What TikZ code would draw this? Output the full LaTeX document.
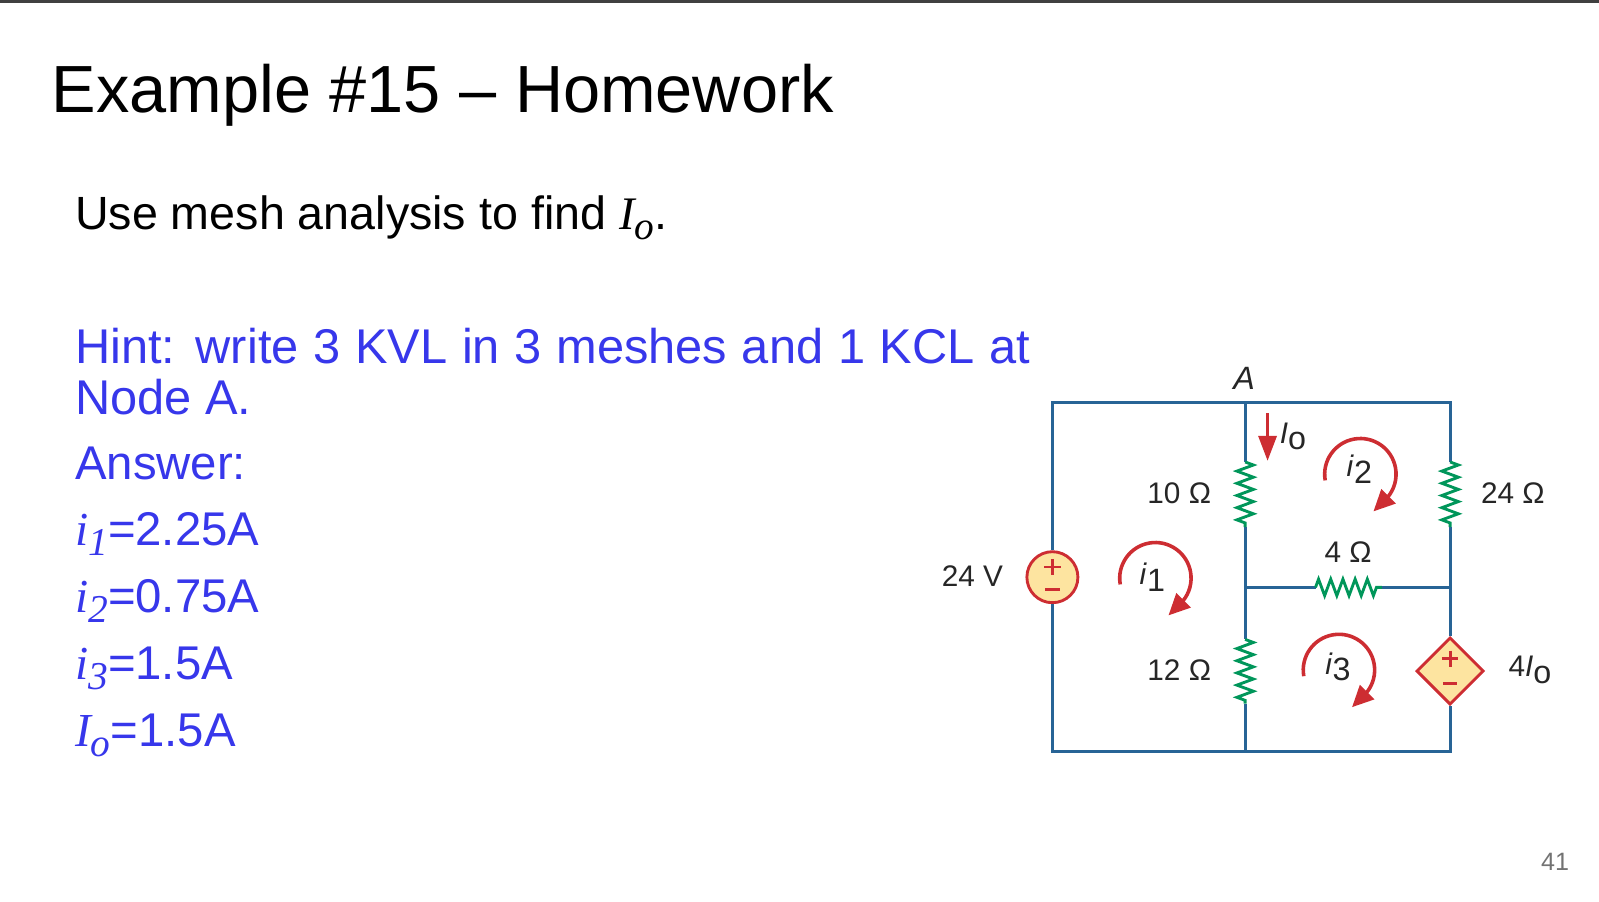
\documentclass[tikz,border=0pt]{standalone}
\usepackage{fontspec}
\setmainfont{Liberation Sans}
\newfontfamily\mathserif{Liberation Serif}
\usetikzlibrary{decorations.pathmorphing,arrows.meta,shapes.geometric}
\definecolor{hintblue}{RGB}{55,55,235}
\definecolor{wireblue}{RGB}{40,100,150}
\definecolor{loopred}{RGB}{205,45,50}
\definecolor{resgreen}{RGB}{0,150,90}
\definecolor{srcfill}{RGB}{253,228,160}
\newcommand{\sv}[2]{{\mathserif\itshape #1}\raisebox{-0.4ex}{\fontsize{11}{11}\selectfont\mathserif\itshape #2}}
\tikzset{
  wire/.style={draw=wireblue,line width=0.8pt},
  resistor/.style={draw=resgreen,line width=0.8pt,decorate,
    decoration={zigzag,segment length=3.4pt,amplitude=2.3pt}},
  meshloop/.style={draw=loopred,line width=1pt,-{Triangle[length=6pt,width=5.5pt]}},
  lbl/.style={font=\fontsize{8.3}{10}\selectfont,text=black!85},
  answer/.style={anchor=base west,text=hintblue,font=\fontsize{13.2}{16}\selectfont}
}
\begin{document}
\begin{tikzpicture}[x=0.01cm,y=-0.01cm]
\useasboundingbox (0,0) rectangle (1568,884);
\draw[black!75,line width=1pt] (0,1) -- (1568,1);
% slide texts
\node[anchor=base west,font=\fontsize{18.6}{22}\selectfont,inner sep=0pt] (title) at (50,110) {Example \#15 -- Homework};
\node[anchor=base west,font=\fontsize{13}{16}\selectfont,inner sep=0pt] (task) at (73,225) {Use mesh analysis to find \sv{I}{o}.};
\node[anchor=base west,text=hintblue,font=\fontsize{13.6}{14.4}\selectfont,align=justify,text width=9.36cm,inner sep=0pt] (hint) at (73,356)
  {Hint: write 3 KVL in 3 meshes and 1 KCL at Node A.};
\node[answer,inner sep=0pt] (ans) at (73,470) {Answer:};
\node[answer,inner sep=0pt] (a1) at (73,535) {\sv{i}{1}=2.25A};
\node[answer,inner sep=0pt] (a2) at (73,601) {\sv{i}{2}=0.75A};
\node[answer,inner sep=0pt] (a3) at (73,666) {\sv{i}{3}=1.5A};
\node[answer,inner sep=0pt] (a4) at (73,732) {\sv{I}{o}=1.5A};
\node[text=black!55,font=\fontsize{7}{9}\selectfont] (page) at (1525,845) {41};
% circuit corners and junctions
\coordinate (tl) at (1032,395);
\coordinate (ta) at (1221,395);
\coordinate (tr) at (1422,395);
\coordinate (bl) at (1032,737);
\coordinate (bm) at (1221,737);
\coordinate (br) at (1422,737);
\coordinate (mm) at (1221,576);
\coordinate (mr) at (1422,576);
% sources
\node[circle,draw=loopred,fill=srcfill,line width=0.8pt,minimum size=0.5cm,inner sep=0pt] (vs) at (1032,566) {};
\node[diamond,draw=loopred,fill=srcfill,line width=0.8pt,minimum size=0.66cm,inner sep=0pt] (cs) at (1422,658) {};
\draw[loopred,line width=0.8pt] (1024,556) -- (1040,556) (1032,548) -- (1032,564) (1025,578) -- (1039,578);
\draw[loopred,line width=0.8pt] (1414,646) -- (1430,646) (1422,638) -- (1422,654) (1415,670) -- (1429,670);
% wires
\draw[wire] (vs.north) -- (tl) -- (ta) -- (tr) -- (1422,453);
\draw[wire] (vs.south) -- (bl) -- (bm) -- (br) -- (cs.south);
\draw[wire] (ta) -- (1221,453) (1221,517) -- (1221,627) (1221,690) -- (bm);
\draw[wire] (mm) -- (1290,576) (1355,576) -- (mr);
\draw[wire] (1422,517) -- (mr) -- (cs.north);
% resistors
\draw[resistor] (1221,453) -- (1221,517);
\draw[resistor] (1422,453) -- (1422,517);
\draw[resistor] (1221,627) -- (1221,690);
\draw[resistor] (1290,576) -- (1355,576);
% mesh currents
\draw[meshloop] (1133,567) ++(170:35) arc[start angle=170,end angle=400,radius=35] -- ++(-14,14);
\draw[meshloop] (1334,465) ++(170:35) arc[start angle=170,end angle=400,radius=35] -- ++(-14,14);
\draw[meshloop] (1313,657) ++(170:35) arc[start angle=170,end angle=400,radius=35] -- ++(-14,14);
\draw[draw=loopred,line width=1pt,-{Triangle[length=7pt,width=5pt]}] (1243,405) -- (1243,452);
% labels
\node[lbl,font=\fontsize{9}{12}\selectfont\itshape] (A) at (1220,371) {A};
\node[lbl] (io) at (1268,428) {\textit{I}\raisebox{-0.4ex}{\small o}};
\node[lbl] (l1) at (1130,566) {\textit{i}\raisebox{-0.4ex}{\small 1}};
\node[lbl] (l2) at (1333,460) {\textit{i}\raisebox{-0.4ex}{\small 2}};
\node[lbl] (l3) at (1312,654) {\textit{i}\raisebox{-0.4ex}{\small 3}};
\node[lbl,anchor=east] (r10) at (1200,484) {10 Ω};
\node[lbl,anchor=west] (r24) at (1440,484) {24 Ω};
\node[lbl] (r4) at (1322,541) {4 Ω};
\node[lbl,anchor=east] (r12) at (1200,657) {12 Ω};
\node[lbl,anchor=east] (v24) at (996,565) {24 V};
\node[lbl,anchor=west] (dep) at (1467,657) {4\textit{I}\raisebox{-0.4ex}{\small o}};
\end{tikzpicture}
\end{document}
